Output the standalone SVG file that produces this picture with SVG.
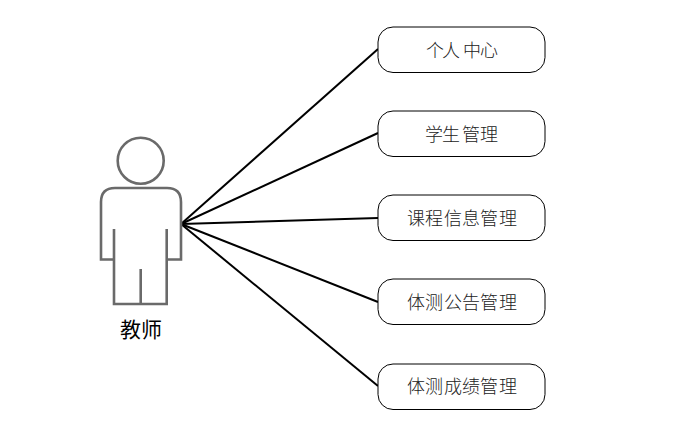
<svg xmlns="http://www.w3.org/2000/svg" width="700" height="424" viewBox="0 0 700 424">
<style>
text{font-family:"Noto Sans CJK SC","Noto Sans CJK TC",sans-serif}
.box{fill:#fff;stroke:#000;stroke-width:1}
.lbl{font-size:18px;fill:#222;font-weight:300}
.fig{fill:none;stroke:#6a6a6a;stroke-width:2.6}
.con{stroke:#000;stroke-width:2;fill:none}
</style>
<rect width="700" height="424" fill="#fff"/>
<g id="connectors">
<line class="con" x1="181" y1="224" x2="378" y2="49"/>
<line class="con" x1="181" y1="224" x2="378" y2="133"/>
<line class="con" x1="181" y1="224" x2="378" y2="218"/>
<line class="con" x1="181" y1="224" x2="378" y2="302"/>
<line class="con" x1="181" y1="224" x2="378" y2="386"/>
</g>
<g id="actor">
<circle class="fig" cx="140.7" cy="160.7" r="23"/>
<path class="fig" d="M114 229V304H166.7V229M114 259.5H101V202Q101 188 115 188H167Q181 188 181 202V259.5H166.7M140.7 269V304"/>
<text x="141" y="337" font-size="21" text-anchor="middle" fill="#000">教师</text>
</g>
<g id="node1"><rect class="box" x="378" y="27" width="167" height="45.500" rx="15"/><text class="lbl" x="426 442 463 480" y="56.500">个人中心</text></g>
<g id="node2"><rect class="box" x="378" y="111" width="167" height="45.500" rx="15"/><text class="lbl" x="425 442 462 480" y="140.500">学生管理</text></g>
<g id="node3"><rect class="box" x="378" y="195" width="167" height="45.500" rx="15"/><text class="lbl" x="407 425 444 462 480 499" y="224.500">课程信息管理</text></g>
<g id="node4"><rect class="box" x="378" y="279" width="167" height="45.500" rx="15"/><text class="lbl" x="407 425 444 462 480 499" y="308.500">体测公告管理</text></g>
<g id="node5"><rect class="box" x="378" y="364" width="167" height="45.500" rx="15"/><text class="lbl" x="407 425 444 462 480 499" y="393">体测成绩管理</text></g>
</svg>
